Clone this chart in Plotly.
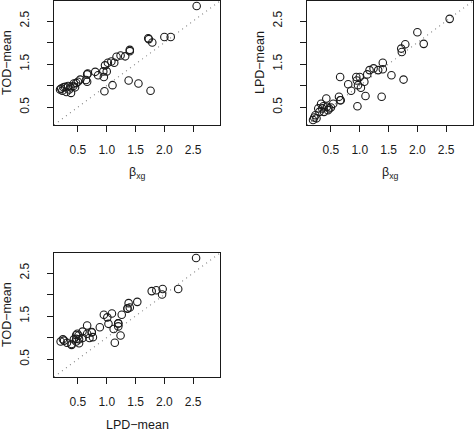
import plotly.graph_objects as go

# values (one row per gene)
beta_xg = [0.19, 0.21, 0.23, 0.25, 0.28, 0.30, 0.33, 0.35, 0.37, 0.38, 0.42, 0.43, 0.45, 0.47, 0.50, 0.54,
           0.64, 0.66, 0.66, 0.67, 0.80, 0.85, 0.94, 0.95, 0.96, 0.97, 1.00, 1.02, 1.08, 1.10, 1.13,
           1.17, 1.24, 1.32, 1.38, 1.40, 1.40, 1.55, 1.72, 1.73, 1.76, 1.79, 2.00, 2.11, 2.56]
tod_mean = [0.91, 0.93, 0.88, 0.96, 0.97, 0.85, 0.99, 0.91, 0.96, 0.83, 0.99, 1.05, 0.96, 1.06, 1.09, 1.14,
            1.13, 1.09, 1.26, 1.28, 1.32, 1.24, 1.33, 1.20, 0.87, 1.47, 1.33, 1.53, 1.56, 1.01, 1.53,
            1.67, 1.70, 1.68, 1.12, 1.83, 1.80, 1.05, 2.10, 2.08, 0.88, 2.00, 2.13, 2.13, 2.85]
lpd_mean = [0.20, 0.26, 0.31, 0.24, 0.47, 0.39, 0.58, 0.47, 0.52, 0.39, 0.70, 0.51, 0.43, 0.47, 0.49, 0.58,
            0.74, 0.66, 1.20, 0.66, 1.03, 0.88, 1.20, 1.12, 0.52, 1.01, 1.20, 0.95, 1.09, 0.76, 1.26,
            1.36, 1.40, 1.36, 0.74, 1.53, 1.38, 1.24, 1.86, 1.78, 1.14, 1.96, 2.24, 1.97, 2.55]

axis_range = [0.085, 2.965]
x_tick_vals = [0.5, 1.0, 1.5, 2.0, 2.5]
x_tick_text = ["0.5", "1.0", "1.5", "2.0", "2.5"]
# R drops the y labels that would overlap, the ticks stay
y_tick_vals = [0.5, 1.5, 2.5]
y_tick_text = ["0.5", "1.5", "2.5"]
y_unlabelled = [1.0, 2.0]

W, H = 474, 431
font = "Liberation Sans, Arial, Helvetica, sans-serif"
ink = "#1a1a1a"

# panel boxes in pixels: (left, right, top, bottom)
panels = [
    (54, 220, 1, 125, beta_xg, tod_mean, "β<sub>xg</sub>", "TOD−mean"),
    (307, 473, 1, 125, beta_xg, lpd_mean, "β<sub>xg</sub>", "LPD−mean"),
    (54, 220, 253, 377, lpd_mean, tod_mean, "LPD−mean", "TOD−mean"),
]

fig = go.Figure()
annotations = []
for i, (l, r, t, b, xs, ys, xlab, ylab) in enumerate(panels):
    n = "" if i == 0 else str(i + 1)
    fig.add_trace(go.Scatter(x=axis_range, y=axis_range, mode="lines",
                             line=dict(color="#808080", width=1.1, dash="1px,4px"),
                             xaxis="x" + n, yaxis="y" + n, hoverinfo="skip"))
    fig.add_trace(go.Scatter(x=xs, y=ys, mode="markers",
                             marker=dict(symbol="circle-open", size=7.5, color=ink, line=dict(width=1.1)),
                             xaxis="x" + n, yaxis="y" + n))
    common = dict(range=axis_range, showgrid=False, zeroline=False, showline=True, mirror=True,
                  linecolor=ink, linewidth=1.2, ticks="outside", ticklen=6, tickcolor=ink,
                  tickfont=dict(size=12, color=ink, family=font))
    fig.update_layout(**{
        "xaxis" + n: dict(domain=[l / W, r / W], anchor="y" + n, tickvals=x_tick_vals,
                          ticktext=x_tick_text, ticklabelstandoff=7, **common),
        "yaxis" + n: dict(domain=[1 - b / H, 1 - t / H], anchor="x" + n, tickvals=y_tick_vals,
                          ticktext=y_tick_text, tickangle=-90, ticklabelstandoff=13,
                          minor=dict(tickvals=y_unlabelled, ticks="outside", ticklen=6,
                                     tickcolor=ink, showgrid=False),
                          **common),
    })
    annotations.append(dict(text=xlab, x=(l + r) / 2 / W, y=1 - (b + 48) / H, xref="paper", yref="paper",
                            showarrow=False, xanchor="center", yanchor="middle",
                            font=dict(size=12.5, color=ink, family=font)))
    annotations.append(dict(text=ylab, x=(l - 47) / W, y=1 - (t + b) / 2 / H, xref="paper", yref="paper",
                            showarrow=False, xanchor="center", yanchor="middle", textangle=-90,
                            font=dict(size=12.5, color=ink, family=font)))

fig.update_layout(width=W, height=H, margin=dict(l=0, r=0, t=0, b=0),
                  paper_bgcolor="white", plot_bgcolor="white", showlegend=False,
                  annotations=annotations)

fig.write_html("out.html", config={"displayModeBar": False},
               post_script="document.body.style.margin='0';")
